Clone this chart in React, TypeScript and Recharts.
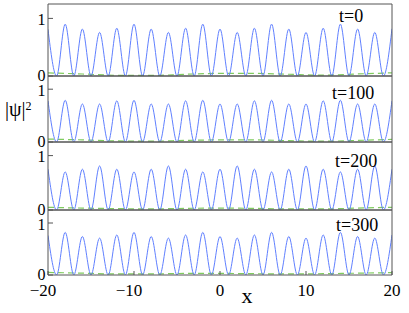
import { Line, LineChart, XAxis, YAxis } from 'recharts';

const W = 409;
const H = 313;
const LEFT = 48;
const RIGHT = 392;
const AXIS = '#555';
const BLUE = '#6080ff';
const GREEN = '#80cc60';
const SERIF = '"Liberation Serif", "Times New Roman", serif';

// x grid of the density curve (peaks on even x, nodes on odd x)
const xs = [
  -20, -19, -18, -17, -16, -15, -14, -13, -12, -11, -10, -9, -8, -7, -6, -5, -4, -3, -2, -1, 0,
  1, 2, 3, 4, 5, 6, 7, 8, 9, 10, 11, 12, 13, 14, 15, 16, 17, 18, 19, 20,
];

const psi0 = [
  0.81, 0, 0.9, 0, 0.815, 0, 0.757, 0, 0.83, 0, 0.9, 0, 0.815, 0, 0.757, 0, 0.83, 0, 0.9, 0, 0.815,
  0, 0.757, 0, 0.83, 0, 0.9, 0, 0.815, 0, 0.757, 0, 0.83, 0, 0.9, 0, 0.815, 0, 0.757, 0, 0.82,
];
const psi100 = [
  0.78, 0, 0.79, 0, 0.72, 0, 0.72, 0, 0.78, 0, 0.79, 0, 0.72, 0, 0.72, 0, 0.78, 0, 0.79, 0, 0.72,
  0, 0.72, 0, 0.78, 0, 0.79, 0, 0.72, 0, 0.72, 0, 0.78, 0, 0.79, 0, 0.72, 0, 0.72, 0, 0.78,
];
const psi200 = [
  0.75, 0, 0.7, 0, 0.75, 0, 0.81, 0, 0.75, 0, 0.7, 0, 0.75, 0, 0.81, 0, 0.75, 0, 0.7, 0, 0.75,
  0, 0.81, 0, 0.75, 0, 0.7, 0, 0.75, 0, 0.81, 0, 0.75, 0, 0.7, 0, 0.75, 0, 0.81, 0, 0.75,
];
const psi300 = [
  0.76, 0, 0.82, 0, 0.74, 0, 0.71, 0, 0.77, 0, 0.82, 0, 0.74, 0, 0.71, 0, 0.77, 0, 0.82, 0, 0.74,
  0, 0.71, 0, 0.77, 0, 0.82, 0, 0.74, 0, 0.71, 0, 0.77, 0, 0.82, 0, 0.74, 0, 0.71, 0, 0.77,
];

// dashed green curve, sampled coarsely
const gx = [-20, -16, -12, -8, -4, 0, 4, 8, 12, 16, 20];
const v0 = [0.055, 0.035, 0.012, 0.01, 0.03, 0.045, 0.045, 0.03, 0.015, 0.035, 0.055];
const v100 = [0.055, 0.04, 0.02, 0.015, 0.03, 0.04, 0.04, 0.025, 0.015, 0.03, 0.05];
const v200 = [0.05, 0.035, 0.025, 0.02, 0.03, 0.035, 0.03, 0.02, 0.02, 0.035, 0.05];
const v300 = [0.05, 0.035, 0.02, 0.02, 0.03, 0.03, 0.025, 0.02, 0.025, 0.035, 0.045];

const times = ['t=0', 't=100', 't=200', 't=300'];
const xTicks = [-20, -10, 0, 10, 20];
const yTicks = [0, 1];

const panels = [
  { top: 4, bottom: 76, psi: psi0, v: v0, tx: 339, ty: 22 },
  { top: 76, bottom: 142, psi: psi100, v: v100, tx: 332, ty: 99 },
  { top: 142, bottom: 210, psi: psi200, v: v200, tx: 335, ty: 167 },
  { top: 210, bottom: 275, psi: psi300, v: v300, tx: 336, ty: 231 },
];

function Panel({ top, bottom, psi, v, last }: { top: number; bottom: number; psi: number[]; v: number[]; last: boolean }) {
  const psiData = xs.map((x, i) => ({ x, y: psi[i] }));
  const vData = gx.map((x, i) => ({ x, y: v[i] }));

  const bottomTick = (p: any) => {
    const val = p.payload.value;
    return (
      <g>
        <line x1={p.x} x2={p.x} y1={bottom} y2={bottom - 4} stroke={AXIS} />
        <text x={p.x - (val < 0 ? 5 : 0)} y={296} textAnchor="middle" fontSize={17} fontFamily={SERIF} fill="#000">
          {val < 0 ? `\u2212${-val}` : `${val}`}
        </text>
      </g>
    );
  };
  const topTick = (p: any) => <line x1={p.x} x2={p.x} y1={top} y2={top + 4} stroke={AXIS} />;
  const leftTick = (p: any) => (
    <g>
      <line x1={LEFT} x2={LEFT + 5} y1={p.y} y2={p.y} stroke={AXIS} />
      <text
        x={45.5}
        y={p.y + (p.payload.value === 0 ? 4.5 : 6.5)}
        textAnchor="end"
        fontSize={16}
        fontFamily={SERIF}
        fill="#000"
      >
        {p.payload.value}
      </text>
    </g>
  );
  const rightTick = (p: any) => <line x1={RIGHT} x2={RIGHT - 5} y1={p.y} y2={p.y} stroke={AXIS} />;

  return (
    <div style={{ position: 'absolute', left: 0, top: 0 }}>
      <LineChart
        width={W}
        height={H}
        margin={{ top: top - 1, bottom: H - bottom - 1, left: LEFT - 1, right: W - RIGHT - 1 }}
      >
        <XAxis
          xAxisId="b"
          dataKey="x"
          type="number"
          domain={[-20, 20]}
          ticks={xTicks}
          height={1}
          axisLine={{ stroke: AXIS }}
          tickLine={false}
          tick={last ? bottomTick : false}
          allowDataOverflow
        />
        <XAxis
          xAxisId="t"
          orientation="top"
          dataKey="x"
          type="number"
          domain={[-20, 20]}
          ticks={xTicks}
          height={1}
          axisLine={{ stroke: AXIS }}
          tickLine={false}
          tick={topTick}
        />
        <YAxis
          yAxisId="l"
          type="number"
          domain={[0, 1.25]}
          ticks={yTicks}
          width={1}
          axisLine={{ stroke: AXIS }}
          tickLine={false}
          tick={leftTick}
          allowDataOverflow
        />
        <YAxis
          yAxisId="r"
          orientation="right"
          type="number"
          domain={[0, 1.25]}
          ticks={yTicks}
          width={1}
          axisLine={{ stroke: AXIS }}
          tickLine={false}
          tick={rightTick}
        />
        <Line
          xAxisId="b"
          yAxisId="l"
          data={vData}
          dataKey="y"
          type="monotone"
          stroke={GREEN}
          strokeWidth={1.2}
          strokeDasharray="6 4"
          dot={false}
          isAnimationActive={false}
        />
        <Line
          xAxisId="b"
          yAxisId="l"
          data={psiData}
          dataKey="y"
          type="monotone"
          stroke={BLUE}
          strokeWidth={1}
          dot={false}
          isAnimationActive={false}
        />
      </LineChart>
    </div>
  );
}

export default function App() {
  return (
    <div style={{ position: 'absolute', left: 0, top: 0, width: W, height: H, background: '#fff' }}>
      {panels.map((p, i) => (
        <Panel key={i} top={p.top} bottom={p.bottom} psi={p.psi} v={p.v} last={i === panels.length - 1} />
      ))}
      <svg width={W} height={H} style={{ position: 'absolute', left: 0, top: 0, pointerEvents: 'none' }}>
        {panels.map((p, i) => (
          <text key={i} x={p.tx} y={p.ty} fontSize={18} fontFamily={SERIF} fill="#000">
            {times[i]}
          </text>
        ))}
        <text x={5} y={116} fontSize={20} fontFamily={SERIF} fill="#000">
          |ψ|
          <tspan fontSize={12} dy={-6.5}>2</tspan>
        </text>
        <text x={247} y={302.5} textAnchor="middle" fontSize={22} fontFamily={SERIF} fill="#000">
          x
        </text>
      </svg>
    </div>
  );
}
